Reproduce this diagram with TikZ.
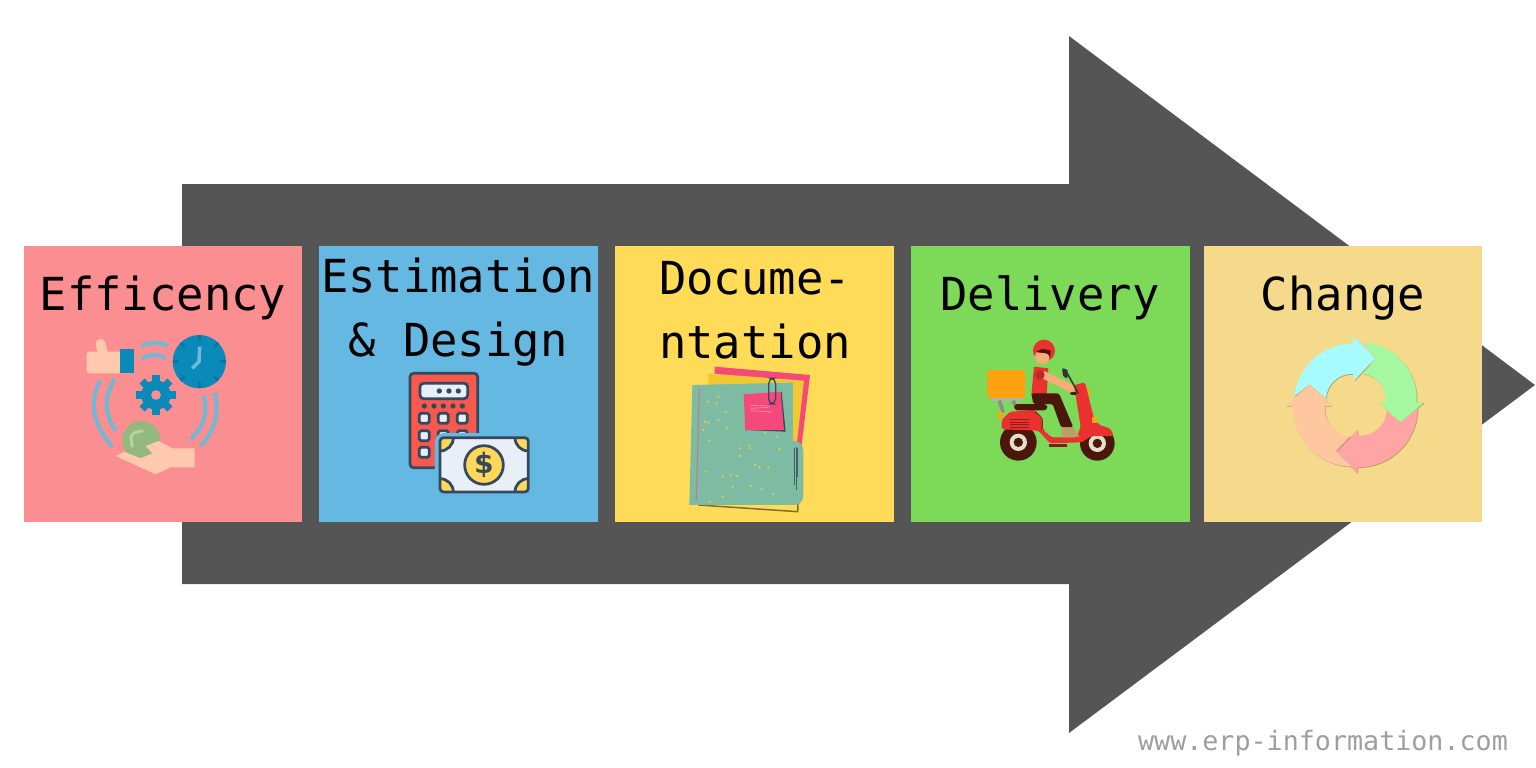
\documentclass[tikz,border=0pt]{standalone}
\usepackage{fontspec}
\usepackage{tikz}
\usetikzlibrary{shadows}
\setmonofont{DejaVu Sans Mono}
\newfontfamily\signfont{DejaVu Sans}
\definecolor{ArrowGray}{HTML}{555555}
\definecolor{EffPink}{HTML}{FA8E90}
\definecolor{EstBlue}{HTML}{65B8E2}
\definecolor{DocYellow}{HTML}{FFDB58}
\definecolor{DelGreen}{HTML}{7DDA58}
\definecolor{ChgSand}{HTML}{F6DA8C}
\definecolor{Peach}{HTML}{FFC9AE}
\definecolor{ClockBlue}{HTML}{0A8AB8}
\definecolor{ClockDark}{HTML}{0878A2}
\definecolor{WaveBlue}{HTML}{6DB9D6}
\definecolor{BallGreen}{HTML}{93B97F}
\definecolor{BallLight}{HTML}{B7D2A6}
\definecolor{CalcRed}{HTML}{F7594F}
\definecolor{CalcDark}{HTML}{34495E}
\definecolor{BillPale}{HTML}{E8EFF6}
\definecolor{CoinYellow}{HTML}{FFD75A}
\definecolor{SheetPink}{HTML}{F5487B}
\definecolor{SheetGold}{HTML}{F2C832}
\definecolor{FolderTeal}{HTML}{7DBCA2}
\definecolor{FleckGold}{HTML}{E0C84A}
\definecolor{ScootRed}{HTML}{E9322F}
\definecolor{ScootDark}{HTML}{4B170D}
\definecolor{ScootOrange}{HTML}{FFA20F}
\definecolor{ScootSkin}{HTML}{F9AB78}
\definecolor{ScootCream}{HTML}{E6DFC8}
\definecolor{CycCyan}{HTML}{A6FBFF}
\definecolor{CycGreen}{HTML}{A5F8A0}
\definecolor{CycRed}{HTML}{FFA5A5}
\definecolor{CycSalmon}{HTML}{FFC7A0}
\tikzset{
    stepbox/.style={rectangle,inner sep=0pt,anchor=north west},
    steplabel/.style={font=\ttfamily\fontsize{25.9}{36.4}\selectfont,align=center,inner sep=0pt,text=black},
    iconzoom/.style={x=0.006667cm,y=-0.006667cm},
    wave/.style={WaveBlue,line width=0.08cm},
    calcline/.style={CalcDark,line width=0.055cm},
    cyc/.style={drop shadow={shadow xshift=0.4pt,shadow yshift=-0.4pt,opacity=0.45,fill=black!60!ChgSand}}
}
\begin{document}
\begin{tikzpicture}[x=0.02cm,y=-0.02cm]
    \useasboundingbox (0,0) rectangle (1536,768);
    \fill[ArrowGray] (182,184)--(1069,184)--(1069,36)--(1535,385)--(1069,733)--(1069,584)--(182,584)--cycle;

    \node[stepbox,fill=EffPink,minimum width=5.56cm,minimum height=5.52cm] (BoxEff) at (24,246) {};
    \node[stepbox,fill=EstBlue,minimum width=5.58cm,minimum height=5.52cm] (BoxEst) at (319,246) {};
    \node[stepbox,fill=DocYellow,minimum width=5.58cm,minimum height=5.52cm] (BoxDoc) at (615,246) {};
    \node[stepbox,fill=DelGreen,minimum width=5.58cm,minimum height=5.52cm] (BoxDel) at (911,246) {};
    \node[stepbox,fill=ChgSand,minimum width=5.56cm,minimum height=5.52cm] (BoxChg) at (1204,246) {};

    \node[steplabel,anchor=base] (TextEff) at (163,310) {Efficency};
    \node[steplabel] (TextEst) at (458,312) {Estimation\\\& Design};
    \node[steplabel] (TextDoc) at (755,310) {Docume-\\ntation};
    \node[steplabel,anchor=base] (TextDel) at (1050,310) {Delivery};
    \node[steplabel,anchor=base] (TextChg) at (1343,310) {Change};
    \node[anchor=base,inner sep=0pt,text=black!38,font=\ttfamily\fontsize{15.2}{18}\selectfont] (TextWeb) at (1323,750) {www.erp-information.com};

    \begin{scope}[shift={(24,240)},iconzoom]
        \draw[Peach,line width=0.2cm,line cap=round] (230,312)--(238,345);
        \fill[Peach,rounded corners=1.5pt] (188,335) rectangle (292,400);
        \fill[ClockBlue] (288,328) rectangle (330,400);
        \draw[wave] (352,318) .. controls (379,305) and (405,305) .. (432,318);
        \draw[wave] (352,357) .. controls (378,342) and (402,341) .. (425,355);
        \fill[ClockBlue] (526,365) circle (80);
        \foreach \a in {0,45,...,315}
            \fill[ClockDark,shift={(526,365)},rotate=\a] (-4,-80) rectangle (4,-62);
        \draw[WaveBlue,line width=0.07cm,line join=round] (527,320)--(525,365)--(505,385);
        \foreach \a in {0,45,...,315}
            \fill[ClockBlue,shift={(396,465)},rotate=\a] (-11,-59) rectangle (11,-38);
        \fill[ClockBlue,even odd rule] (396,465) circle (44) (396,465) circle (15);
        \draw[wave] (228,422) .. controls (194,488) and (207,554) .. (265,620);
        \draw[wave] (272,418) .. controls (239,469) and (240,521) .. (275,572);
        \draw[wave] (573,458) .. controls (586,520) and (572,573) .. (530,618);
        \draw[wave] (538,465) .. controls (553,514) and (541,558) .. (500,598);
        \fill[BallGreen] (352,600) circle (57);
        \draw[BallLight,line width=0.06cm] (325,622) .. controls (318,580) .. (358,572);
        \fill[Peach] (275,648)--(300,635)--(350,655)--(385,640)--(365,618)--(405,603)--(445,625)--(512,625)--(512,682)--(440,682)--(395,703)--cycle;
    \end{scope}

    \begin{scope}[shift={(315,340)},iconzoom]
        \draw[calcline,fill=CalcRed,rounded corners=2pt] (285,100) rectangle (488,383);
        \draw[calcline,fill=BillPale,rounded corners=2pt] (315,130) rectangle (458,176);
        \foreach \dx in {373,402,430}
            \fill[CalcDark] (\dx,153) circle (8);
        \foreach \dx in {328,357,385,414,442}
            \fill[CalcDark] (\dx,198) circle (8);
        \foreach \dx in {328,385,442}
            \foreach \dy in {235,287,337}
                \draw[calcline,fill=BillPale,rounded corners=1pt] (\dx-15,\dy-15) rectangle (\dx+15,\dy+15);
        \fill[EstBlue,rounded corners=5pt] (360,279) rectangle (650,470);
        \begin{scope}
            \clip[rounded corners=2pt] (375,293) rectangle (640,456);
            \fill[BillPale] (375,293) rectangle (640,456);
            \foreach \cx/\cy in {375/293,640/293,375/456,640/456}
                \draw[calcline,fill=CoinYellow] (\cx,\cy) circle (40);
        \end{scope}
        \draw[calcline,rounded corners=2pt] (375,293) rectangle (640,456);
        \draw[calcline,fill=CoinYellow] (507,375) circle (58);
        \node[inner sep=0pt,text=CalcDark,font=\signfont\bfseries\fontsize{16}{16}\selectfont] (BillSign) at (507,375) {\$};
    \end{scope}

    \begin{scope}[shift={(640,350)},iconzoom]
        \fill[SheetPink] (224,50)--(510,75)--(482,310)--(224,200)--cycle;
        \fill[SheetGold] (205,70)--(492,92)--(470,285)--(205,200)--cycle;
        \draw[black!50!DocYellow,line width=0.03cm] (175,465)--(473,485)--(475,440);
        \fill[FolderTeal] (157,105)--(459,98)--(459,272) .. controls (480,272) and (490,285) .. (490,305)--(490,435) .. controls (490,452) and (480,465) .. (465,465)--(148,465)--cycle;
        \draw[SheetPink!60!FolderTeal,line width=0.02cm] (178,115)--(169,450);
        \draw[CalcDark!80!FolderTeal,line width=0.02cm] (463,295)--(463,405) (469,290)--(469,420) (474,295)--(474,380);
        \foreach \fx/\fy in {235/140,230/160,205/155,258/185,195/215,205/218,235/210,190/240,262/235,375/248,412/260,328/285,300/295,418/298,330/295,208/272,300/318,345/345,358/352,385/352,198/365,272/375,248/380,332/408,400/432,278/410,365/418,210/455,248/440,290/378}
            \fill[FleckGold] (\fx,\fy) circle (4);
        \fill[CalcDark] (425,125)--(437,245)--(316,240)--cycle;
        \fill[SheetPink] (311,133)--(422,125)--(432,240)--(316,240)--cycle;
        \draw[SheetPink!55!white,line width=0.012cm] (332,166)--(390,168) (332,175)--(385,172) (332,182)--(398,186);
        \draw[CalcDark,line width=0.025cm,rounded corners=3pt] (386,112)--(386,85)--(407,85)--(407,162)--(386,162)--(386,112);
    \end{scope}

    \begin{scope}[shift={(960,330)},iconzoom]
        \fill[ScootDark] (175,337) circle (55);
        \fill[ScootCream] (175,337) circle (26);
        \fill[ScootDark] (175,337) circle (14);
        \fill[ScootDark] (412,340) circle (52);
        \fill[ScootCream] (412,340) circle (26);
        \fill[ScootDark] (412,340) circle (14);
        \draw[ScootDark!70!ScootRed,line width=0.06cm] (268,347)--(322,347);
        \fill[black!30] (95,204) rectangle (187,212);
        \draw[black!45,line width=0.07cm] (118,212)--(130,248) (160,212)--(165,226);
        \fill[ScootOrange,rounded corners=1pt] (82,120) rectangle (196,204);
        \fill[ScootOrange] (113,247) rectangle (128,266);
        \fill[ScootOrange] (370,165) .. controls (398,185) .. (372,207) -- cycle;
        \fill[ScootRed,rounded corners=1pt] (125,298)--(125,270)--(150,245)--(225,240)--(247,270)--(250,300)--(275,322)--(350,322)--(362,290)--(342,165)--(375,157)--(402,265)--(418,285)--(450,295)--(462,318)--(395,318)--(365,337)--(270,340)--(235,302)--cycle;
        \fill[ScootOrange] (397,262) rectangle (410,280);
        \draw[ScootDark!60!ScootRed,line width=0.02cm] (150,268)--(207,268) (150,276)--(207,276) (150,284)--(207,284) (150,291)--(207,291);
        \draw[ScootDark!60!ScootRed,line width=0.02cm] (225,245) .. controls (250,265) .. (245,298);
        \fill[ScootDark,rounded corners=2pt] (162,222) rectangle (262,241);
        \fill[ScootRed] (222,110)--(265,115)--(260,195)--(214,195)--cycle;
        \fill[ScootDark,rounded corners=1pt] (214,190)--(297,190)--(340,292)--(303,292)--(278,222)--(220,222)--cycle;
        \fill[black!30!ScootCream!70!ScootOrange] (305,292)--(340,292)--(358,320)--(305,322)--cycle;
        \draw[ScootSkin,line width=0.15cm] (248,133)--(340,178);
        \fill[ScootRed!70!ScootDark] (240,135) circle (14);
        \draw[black!80,line width=0.03cm] (322,130)--(355,190);
        \fill[black!80] (307,115) .. controls (325,118) .. (322,145) .. controls (308,140) .. cycle;
        \draw[ScootDark,line width=0.07cm,line cap=round] (335,190)--(346,190);
        \fill[ScootRed] (252,62) circle (33);
        \fill[ScootSkin] (247,80) circle (22);
        \fill[ScootDark] (228,66) .. controls (245,55) .. (272,62) -- (270,85) .. controls (265,70) .. (240,68) -- cycle;
    \end{scope}

    \begin{scope}[shift={(1270,325)},iconzoom]
        \fill[CycCyan,cyc] (72,215) to[bend left=40] (250,55)--(250,33)--(316,100)--(252,167)--(250,147) to[bend right=45] (168,220)--(118,178)--cycle;
        \fill[CycGreen,cyc] (280,52) to[bend left=45] (440,232)--(462,232)--(392,293)--(327,232)--(347,232) to[bend right=45] (280,147)--(316,100)--cycle;
        \fill[CycRed,cyc] (443,250) to[bend left=45] (262,427)--(262,445)--(198,378)--(262,315)--(265,332) to[bend right=45] (350,258)--(392,293)--cycle;
        \fill[CycSalmon,cyc] (245,425) to[bend left=45] (68,243)--(48,243)--(118,178)--(185,243)--(165,243) to[bend right=45] (240,335)--(198,378)--cycle;
    \end{scope}
\end{tikzpicture}
\end{document}
